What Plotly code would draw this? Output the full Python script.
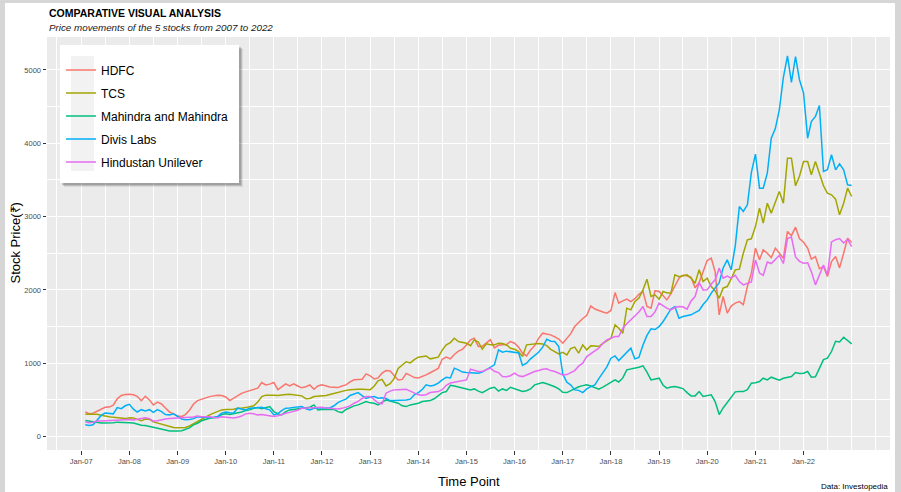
import pandas as pd
import plotly.graph_objects as go

# ---------------- data (monthly closing prices, Feb-2007 .. Jan-2023) ----------------
dates = pd.date_range("2007-02-01", periods=192, freq="MS")

hdfc = (
    [335, 312, 318, 345, 380, 400, 402, 430, 515, 560, 575]
    + [578, 570, 548, 490, 550, 500, 430, 470, 445, 390, 335, 310]
    + [280, 275, 300, 360, 440, 490, 510, 530, 545, 555, 565, 560]
    + [540, 490, 520, 560, 590, 610, 627, 640, 660, 737, 705, 715]
    + [737, 640, 673, 719, 691, 719, 690, 665, 680, 705, 646, 690]
    + [705, 690, 675, 672, 668, 690, 705, 745, 775, 778, 782, 855]
    + [828, 785, 800, 865, 900, 895, 830, 773, 780, 860, 835, 805]
    + [800, 818, 841, 870, 900, 930, 1055, 1083, 1060, 1120, 1165, 1190]
    + [1250, 1320, 1342, 1230, 1230, 1280, 1320, 1210, 1245, 1251, 1255, 1296]
    + [1273, 1220, 1137, 1100, 1180, 1240, 1340, 1410, 1400, 1387, 1360, 1330]
    + [1273, 1340, 1400, 1500, 1560, 1610, 1650, 1782, 1740, 1715, 1700, 1683]
    + [1720, 1964, 1819, 1850, 1874, 1841, 1880, 1940, 1978, 1773, 1751, 1990]
    + [1978, 1920, 1864, 1950, 2050, 2160, 2200, 2192, 2170, 2030, 2100, 2250]
    + [2400, 2433, 2250, 1660, 1910, 1683, 1780, 1820, 1841, 1800, 2046, 2228]
    + [2570, 2410, 2547, 2501, 2440, 2570, 2501, 2433, 2797, 2740, 2856, 2700]
    + [2650, 2570, 2420, 2455, 2290, 2319, 2182, 2387, 2455, 2300, 2500, 2706]
    + [2646]
)

tcs = (
    [305, 303, 300, 303, 290, 275, 270, 262, 257, 250, 245]
    + [257, 255, 235, 215, 240, 235, 200, 184, 170, 150, 135, 125]
    + [120, 120, 125, 145, 175, 205, 240, 275, 296, 320, 340, 364]
    + [370, 370, 373, 387, 385, 395, 409, 420, 470, 546, 565, 569]
    + [565, 560, 570, 575, 578, 570, 565, 555, 515, 520, 546, 550]
    + [555, 560, 575, 590, 610, 620, 630, 640, 646, 646, 646, 640]
    + [640, 690, 760, 780, 690, 720, 790, 930, 978, 1020, 1005, 1050]
    + [1083, 1091, 1100, 1060, 1070, 1083, 1180, 1251, 1282, 1342, 1296, 1280]
    + [1273, 1240, 1319, 1290, 1192, 1264, 1251, 1251, 1273, 1270, 1250, 1205]
    + [1190, 1160, 1091, 1251, 1258, 1264, 1270, 1264, 1240, 1190, 1160, 1128]
    + [1150, 1114, 1200, 1220, 1137, 1251, 1183, 1237, 1235, 1228, 1270, 1300]
    + [1340, 1523, 1478, 1410, 1751, 1728, 1840, 1890, 2001, 2147, 1910, 1933]
    + [1874, 1978, 1960, 1956, 2205, 2180, 2190, 2205, 2160, 2092, 2274, 2114]
    + [2160, 2046, 1990, 1887, 2024, 2046, 2150, 2274, 2283, 2501, 2683, 2697]
    + [2864, 3115, 2910, 3183, 3047, 3200, 3342, 3183, 3797, 3797, 3420, 3550]
    + [3751, 3751, 3570, 3751, 3600, 3420, 3320, 3297, 3238, 3024, 3183, 3388]
    + [3274]
)

mahindra = (
    [220, 210, 200, 192, 185, 184, 184, 190, 197, 197, 195]
    + [190, 184, 165, 155, 151, 140, 125, 110, 106, 90, 75, 73]
    + [75, 80, 95, 119, 160, 182, 215, 235, 251, 257, 262, 300]
    + [310, 300, 310, 319, 335, 355, 364, 387, 395, 380, 390, 409]
    + [341, 310, 296, 340, 364, 370, 380, 387, 390, 400, 432, 364]
    + [370, 373, 373, 370, 340, 327, 370, 400, 419, 432, 450, 477]
    + [460, 455, 432, 470, 500, 485, 470, 455, 420, 409, 432, 440]
    + [455, 477, 485, 491, 515, 555, 600, 614, 700, 690, 673, 660]
    + [650, 637, 650, 620, 600, 630, 660, 673, 620, 650, 630, 673]
    + [650, 627, 614, 625, 650, 705, 720, 737, 720, 705, 680, 650]
    + [605, 600, 625, 650, 680, 695, 705, 690, 670, 646, 675, 705]
    + [740, 773, 745, 800, 910, 920, 933, 945, 964, 880, 773, 785]
    + [796, 700, 660, 675, 682, 670, 655, 600, 555, 555, 614, 546]
    + [560, 569, 477, 300, 390, 470, 540, 610, 614, 614, 640, 728]
    + [735, 750, 796, 773, 810, 790, 770, 796, 810, 818, 873, 860]
    + [864, 887, 810, 815, 930, 1050, 1069, 1160, 1300, 1290, 1355, 1310]
    + [1264]
)

divis = (
    [160, 150, 160, 220, 289, 320, 312, 310, 395, 381, 420]
    + [440, 373, 335, 367, 350, 367, 330, 367, 340, 300, 296, 310]
    + [275, 240, 230, 232, 245, 270, 265, 262, 257, 265, 275, 320]
    + [335, 325, 319, 387, 375, 364, 385, 387, 395, 401, 380, 364]
    + [296, 315, 355, 387, 390, 401, 405, 409, 380, 364, 385, 390]
    + [390, 387, 390, 420, 464, 490, 510, 560, 580, 600, 560, 520]
    + [540, 546, 523, 530, 520, 491, 491, 491, 495, 500, 510, 569]
    + [600, 646, 705, 690, 700, 730, 773, 810, 800, 933, 910, 880]
    + [875, 873, 870, 865, 880, 910, 950, 978, 1183, 1150, 1165, 1160]
    + [1150, 1140, 970, 1000, 1060, 1100, 1150, 1220, 1328, 1300, 1296, 1228]
    + [850, 740, 705, 637, 630, 600, 650, 682, 705, 790, 870, 950]
    + [1069, 1100, 1037, 1091, 1150, 1205, 1060, 1080, 1250, 1380, 1470, 1460]
    + [1500, 1569, 1650, 1740, 1773, 1615, 1637, 1650, 1660, 1690, 1720, 1800]
    + [1864, 1956, 2024, 2100, 2300, 2410, 2274, 2600, 3138, 3070, 3161, 3600]
    + [3852, 3388, 3388, 3593, 4070, 4200, 4456, 4900, 5193, 4829, 5183, 4866]
    + [4684, 4070, 4297, 4365, 4515, 3615, 3638, 3843, 3638, 3720, 3638, 3433]
    + [3424]
)

hul = (
    [200, 190, 195, 211, 211, 215, 220, 225, 230, 230, 230]
    + [232, 225, 237, 243, 257, 245, 211, 215, 230, 240, 245, 250]
    + [257, 255, 257, 262, 266, 280, 270, 275, 270, 260, 257, 270]
    + [265, 251, 255, 264, 280, 310, 319, 310, 296, 300, 290, 282]
    + [275, 285, 305, 319, 330, 341, 360, 387, 390, 395, 400, 405]
    + [401, 390, 387, 380, 375, 385, 400, 419, 455, 480, 520, 546]
    + [546, 500, 460, 446, 592, 620, 637, 640, 646, 646, 620, 590]
    + [569, 565, 570, 600, 608, 614, 640, 700, 730, 740, 745, 760]
    + [773, 919, 900, 887, 887, 910, 933, 890, 873, 818, 815, 830]
    + [865, 828, 818, 840, 865, 887, 900, 919, 925, 900, 887, 860]
    + [841, 845, 870, 900, 960, 1001, 1091, 1137, 1170, 1205, 1273, 1319]
    + [1342, 1364, 1364, 1478, 1540, 1592, 1650, 1700, 1773, 1637, 1637, 1700]
    + [1819, 1780, 1751, 1728, 1760, 1773, 1770, 1737, 1850, 1910, 2100, 2000]
    + [2001, 2080, 2137, 2297, 2160, 2190, 2160, 2200, 2114, 2069, 2092, 2110]
    + [2410, 2230, 2200, 2380, 2360, 2420, 2470, 2360, 2700, 2720, 2450, 2390]
    + [2365, 2370, 2250, 2069, 2210, 2340, 2205, 2655, 2685, 2700, 2640, 2690]
    + [2592]
)

series_names = ["HDFC", "TCS", "Mahindra and Mahindra", "Divis Labs", "Hindustan Unilever"]
series_values = [hdfc, tcs, mahindra, divis, hul]
series_colors = ["#F8766D", "#A3A500", "#00BF7D", "#00B0F6", "#E76BF3"]

tick_dates = pd.date_range("2007-01-01", "2022-01-01", freq="YS")
tick_labels = [d.strftime("%b-%y") for d in tick_dates]
y_ticks = [0, 1000, 2000, 3000, 4000, 5000]

# ---------------- layout geometry ----------------
W, H = 901, 492
L, R, T, B = 47, 11, 37, 42
PW, PH = W - L - R, H - T - B


def px(X):
    return (X - L) / PW


def py(Y):
    return (H - B - Y) / PH


FONT = "Liberation Sans, Arial, sans-serif"

fig = go.Figure()
for name, vals, col in zip(series_names, series_values, series_colors):
    fig.add_trace(go.Scatter(
        x=dates, y=vals, mode="lines", name=name, legendgroup=name,
        line=dict(color=col, width=1.5),
    ))

# ggplot-like 5% expansion
span = dates[-1] - dates[0]
x_range = [dates[0] - span * 0.05, dates[-1] + span * 0.05]
all_vals = [v for s in series_values for v in s]
pad = 0.05 * (max(all_vals) - min(all_vals))
y_range = [min(all_vals) - pad, max(all_vals) + pad]

fig.update_xaxes(
    type="date", range=x_range,
    tickmode="array", tickvals=tick_dates, ticktext=tick_labels,
    ticks="outside", ticklen=3.5, tickwidth=1, tickcolor="#333333",
    tickfont=dict(family=FONT, size=7.5, color="#4D4D4D"),
    showgrid=True, gridcolor="white", gridwidth=1.1,
    minor=dict(dtick="M6", tick0="2006-07-01", showgrid=True,
               gridcolor="white", gridwidth=0.55),
    zeroline=False, showline=False,
)
fig.update_yaxes(
    range=y_range,
    tickmode="array", tickvals=y_ticks, ticktext=[str(v) for v in y_ticks],
    ticks="outside", ticklen=3.5, tickwidth=1, tickcolor="#333333",
    tickfont=dict(family=FONT, size=7.5, color="#4D4D4D"),
    showgrid=True, gridcolor="white", gridwidth=1.1,
    minor=dict(dtick=500, tick0=0, showgrid=True, gridcolor="white", gridwidth=0.55),
    zeroline=False, showline=False,
)

shapes = []
# gray outer frame (left, top, right)
frame_col = "#D6D6D6"
shapes.append(dict(type="rect", xref="paper", yref="paper", x0=px(0), x1=px(5), y0=py(H), y1=py(0),
                   fillcolor=frame_col, line=dict(width=0), layer="above"))
shapes.append(dict(type="rect", xref="paper", yref="paper", x0=px(0), x1=px(W), y0=py(3), y1=py(0),
                   fillcolor=frame_col, line=dict(width=0), layer="above"))
shapes.append(dict(type="rect", xref="paper", yref="paper", x0=px(895), x1=px(W), y0=py(H), y1=py(0),
                   fillcolor=frame_col, line=dict(width=0), layer="above"))
# legend box with drop shadow
for off, op in [(4, 0.08), (3, 0.12), (2, 0.15)]:
    shapes.append(dict(type="rect", xref="paper", yref="paper",
                       x0=px(60 + off), x1=px(239 + off), y0=py(183 + off), y1=py(45 + off),
                       fillcolor=f"rgba(0,0,0,{op})", line=dict(width=0), layer="above"))
shapes.append(dict(type="rect", xref="paper", yref="paper", x0=px(60), x1=px(239), y0=py(183), y1=py(45),
                   fillcolor="white", line=dict(width=0), layer="above"))
shapes.append(dict(type="rect", xref="paper", yref="paper", x0=px(71), x1=px(94), y0=py(171), y1=py(56),
                   fillcolor="#F2F2F2", line=dict(width=0), layer="above"))

annotations = [
    dict(text="<b>COMPARATIVE VISUAL ANALYSIS</b>", x=px(47), y=py(13), xref="paper", yref="paper",
         xanchor="left", yanchor="middle", showarrow=False,
         font=dict(family=FONT, size=10.5, color="black")),
    dict(text="<i>Price movements of the 5 stocks from 2007 to 2022</i>", x=px(47), y=py(27.5),
         xref="paper", yref="paper", xanchor="left", yanchor="middle", showarrow=False,
         font=dict(family=FONT, size=9.8, color="#1A1A1A")),
    dict(text="Time Point", x=px((L + W - R) / 2), y=py(482), xref="paper", yref="paper",
         xanchor="center", yanchor="middle", showarrow=False,
         font=dict(family=FONT, size=13, color="black")),
    dict(text="Stock Price(₹)", x=px(15), y=py((T + H - B) / 2), xref="paper", yref="paper",
         xanchor="center", yanchor="middle", showarrow=False, textangle=-90,
         font=dict(family=FONT, size=13, color="black")),
    dict(text="Data: Investopedia", x=px(890), y=py(486), xref="paper", yref="paper",
         xanchor="right", yanchor="middle", showarrow=False,
         font=dict(family=FONT, size=8, color="black")),
]

fig.update_layout(
    width=W, height=H, autosize=False,
    margin=dict(l=L, r=R, t=T, b=B, pad=0),
    paper_bgcolor="white", plot_bgcolor="#EBEBEB",
    font=dict(family=FONT),
    showlegend=True,
    legend=dict(x=px(61), y=py(55.5), xanchor="left", yanchor="top",
                bgcolor="rgba(0,0,0,0)", borderwidth=0,
                font=dict(family=FONT, size=12, color="black"),
                tracegroupgap=4, itemwidth=30, traceorder="grouped"),
    shapes=shapes, annotations=annotations,
    hovermode=False,
)

fig.write_html("out.html", config={"displayModeBar": False},
               post_script="document.body.style.margin='0';")
